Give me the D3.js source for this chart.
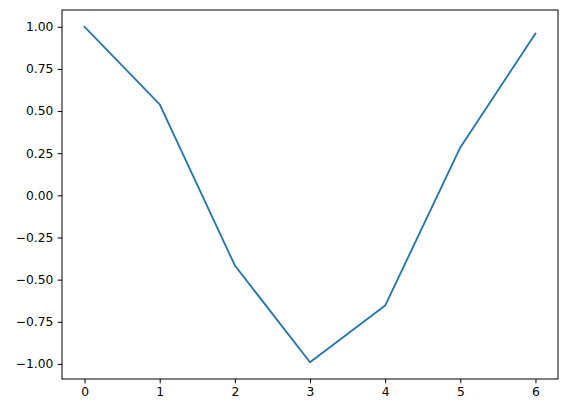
<!DOCTYPE html>
<html>
<head>
<script src="https://d3js.org/d3.v7.min.js" charset="utf-8"></script>
<style>
  body { margin: 0; background: #fff; }
  text { font-family: "DejaVu Sans", sans-serif; }
</style>
</head>
<body>
<svg id="chart" width="568" height="413"></svg>
<script>
// data
const xValues = [0, 1, 2, 3, 4, 5, 6];
const yValues = [1.0, 0.540, -0.416, -0.990, -0.654, 0.284, 0.960];
const xTicks = [0, 1, 2, 3, 4, 5, 6];
const yTicks = [-1.0, -0.75, -0.5, -0.25, 0.0, 0.25, 0.5, 0.75, 1.0];

const svg = d3.select("#chart");
const margin = {left: 62, right: 10, top: 10, bottom: 34};
const width = 568, height = 413;

const xPad = (d3.max(xValues) - d3.min(xValues)) * 0.05;
const yPad = (d3.max(yValues) - d3.min(yValues)) * 0.05;

const x = d3.scaleLinear()
    .domain([d3.min(xValues) - xPad, d3.max(xValues) + xPad])
    .range([margin.left, width - margin.right]);
const y = d3.scaleLinear()
    .domain([d3.min(yValues) - yPad, d3.max(yValues) + yPad])
    .range([height - margin.bottom, margin.top]);

const data = xValues.map((d, i) => ({x: d, y: yValues[i]}));

// line
svg.append("path")
    .datum(data)
    .attr("fill", "none")
    .attr("stroke", "#1f77b4")
    .attr("stroke-width", 1.85)
    .attr("stroke-linejoin", "round")
    .attr("stroke-linecap", "square")
    .attr("d", d3.line().x(d => x(d.x)).y(d => y(d.y)));

// axes
const xAxis = d3.axisBottom(x).tickValues(xTicks).tickFormat(d3.format("d"))
    .tickSize(4.3).tickPadding(4.3);
const yAxis = d3.axisLeft(y).tickValues(yTicks).tickFormat(d3.format(".2f"))
    .tickSize(4.3).tickPadding(4.3);

const gx = svg.append("g")
    .attr("transform", `translate(0, ${height - margin.bottom})`)
    .call(xAxis);
const gy = svg.append("g")
    .attr("transform", `translate(${margin.left}, 0)`)
    .call(yAxis);

[gx, gy].forEach(g => {
    g.select(".domain").remove();
    g.selectAll("line").attr("stroke", "#000").attr("stroke-width", 1);
    g.selectAll("text").attr("fill", "#000").style("font-size", "12.3px")
        .style("font-family", "'DejaVu Sans', sans-serif");
});

// frame
svg.append("rect")
    .attr("x", margin.left)
    .attr("y", margin.top)
    .attr("width", width - margin.left - margin.right)
    .attr("height", height - margin.top - margin.bottom)
    .attr("fill", "none")
    .attr("stroke", "#000")
    .attr("stroke-width", 1);
</script>
</body>
</html>
